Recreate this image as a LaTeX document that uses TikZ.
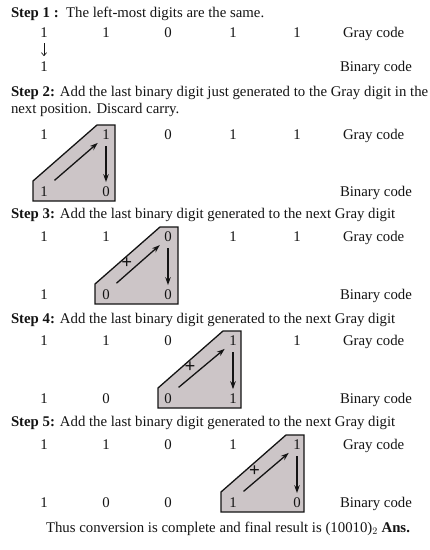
\documentclass[tikz,border=0pt]{standalone}
\usepackage{fontspec}
\setmainfont{Liberation Serif}
\usetikzlibrary{arrows.meta}
\definecolor{boxfill}{RGB}{204,197,199}
\definecolor{ink}{RGB}{20,20,20}
\newcommand\mainfs{\fontsize{14.8}{17}\selectfont}
\begin{document}
\begin{tikzpicture}[x=1pt,y=-1pt,
  every node/.style={inner sep=0pt, outer sep=0pt, font=\mainfs, text=ink},
  txt/.style={anchor=base west},
  dig/.style={anchor=base},
  lbl/.style={anchor=base west},
  gbox/.style={draw=ink, line width=1.3pt, fill=boxfill, line join=miter},
  arr/.style={draw=ink, -{Stealth[length=8pt,width=5.5pt]}, line width=1.3pt},
  smallarr/.style={draw=ink, -{Straight Barb[length=3pt,width=5pt]}, line width=0.7pt},
  plus/.style={font=\fontsize{19}{19}\selectfont\bfseries}
  ]
\useasboundingbox (0,0) rectangle (430,550);
\fill[white] (0,0) rectangle (430,550);

% ---------- Step 1
\node[txt] (s1) at (11,17) {\textbf{Step 1 :}\ \ The left-most digits are the same.};
\node[dig] (g1a) at (44,37) {1};
\node[dig] (g1b) at (106,37) {1};
\node[dig] (g1c) at (168,37) {0};
\node[dig] (g1d) at (233,37) {1};
\node[dig] (g1e) at (297,37) {1};
\node[lbl] (g1l) at (343,37) {Gray code};
\node[dig] (b1a) at (44,71) {1};
\node[lbl] (b1l) at (340,71) {Binary code};
\draw[smallarr, shorten <=6pt, shorten >=5pt] (g1a.south) -- (b1a.north);

% ---------- Step 2
\node[txt] (s2a) at (11,96) {\textbf{Step 2:} Add the last binary digit just generated to the Gray digit in the};
\node[txt] (s2b) at (11,113) {next position. Discard carry.};
\fill[gbox] (97,125) -- (115,125) -- (115,201) -- (33,201) -- (33,181) -- cycle;
\node[dig] (g2a) at (44,139) {1};
\node[dig] (g2b) at (106,139) {1};
\node[dig] (g2c) at (168,139) {0};
\node[dig] (g2d) at (233,139) {1};
\node[dig] (g2e) at (297,139) {1};
\node[lbl] (g2l) at (343,139) {Gray code};
\node[dig] (b2a) at (44,196) {1};
\node[dig] (b2b) at (106,196) {0};
\node[lbl] (b2l) at (340,196) {Binary code};
\draw[arr, shorten <=9pt, shorten >=6pt] (b2a.north east) -- (g2b.south west);
\draw[arr, shorten <=7pt, shorten >=4pt] (g2b.south) -- (b2b.north);

% ---------- Step 3
\node[txt] (s3) at (11,218) {\textbf{Step 3:} Add the last binary digit generated to the next Gray digit};
\fill[gbox] (160,227) -- (178,227) -- (178,304) -- (95,304) -- (95,284) -- cycle;
\node[dig] (g3a) at (44,241) {1};
\node[dig] (g3b) at (106,241) {1};
\node[dig] (g3c) at (168,241) {0};
\node[dig] (g3d) at (233,241) {1};
\node[dig] (g3e) at (297,241) {1};
\node[lbl] (g3l) at (343,241) {Gray code};
\node[dig] (b3a) at (44,299) {1};
\node[dig] (b3b) at (106,299) {0};
\node[dig] (b3c) at (168,299) {0};
\node[lbl] (b3l) at (340,299) {Binary code};
\draw[arr, shorten <=9pt, shorten >=6pt] (b3b.north east) -- node[plus, pos=0.42, above left=0.5pt] (p3) {+} (g3c.south west);
\draw[arr, shorten <=7pt, shorten >=4pt] (g3c.south) -- (b3c.north);

% ---------- Step 4
\node[txt] (s4) at (11,323) {\textbf{Step 4:} Add the last binary digit generated to the next Gray digit};
\fill[gbox] (223,331) -- (241,331) -- (241,408) -- (158,408) -- (158,388) -- cycle;
\node[dig] (g4a) at (44,345) {1};
\node[dig] (g4b) at (106,345) {1};
\node[dig] (g4c) at (168,345) {0};
\node[dig] (g4d) at (233,345) {1};
\node[dig] (g4e) at (297,345) {1};
\node[lbl] (g4l) at (343,345) {Gray code};
\node[dig] (b4a) at (44,403) {1};
\node[dig] (b4b) at (106,403) {0};
\node[dig] (b4c) at (168,403) {0};
\node[dig] (b4d) at (233,403) {1};
\node[lbl] (b4l) at (340,403) {Binary code};
\draw[arr, shorten <=9pt, shorten >=6pt] (b4c.north east) -- node[plus, pos=0.42, above left=0.5pt] (p4) {+} (g4d.south west);
\draw[arr, shorten <=7pt, shorten >=4pt] (g4d.south) -- (b4d.north);

% ---------- Step 5
\node[txt] (s5) at (11,426) {\textbf{Step 5:} Add the last binary digit generated to the next Gray digit};
\fill[gbox] (286,435) -- (304,435) -- (304,512) -- (221,512) -- (221,492) -- cycle;
\node[dig] (g5a) at (44,449) {1};
\node[dig] (g5b) at (106,449) {1};
\node[dig] (g5c) at (168,449) {0};
\node[dig] (g5d) at (233,449) {1};
\node[dig] (g5e) at (297,449) {1};
\node[lbl] (g5l) at (343,449) {Gray code};
\node[dig] (b5a) at (44,507) {1};
\node[dig] (b5b) at (106,507) {0};
\node[dig] (b5c) at (168,507) {0};
\node[dig] (b5d) at (233,507) {1};
\node[dig] (b5e) at (297,507) {0};
\node[lbl] (b5l) at (340,507) {Binary code};
\draw[arr, shorten <=9pt, shorten >=6pt] (b5d.north east) -- node[plus, pos=0.42, above left=0.5pt] (p5) {+} (g5e.south west);
\draw[arr, shorten <=7pt, shorten >=4pt] (g5e.south) -- (b5e.north);

% ---------- Result
\node[anchor=base] (res) at (228,532) {Thus conversion is complete and final result is (10010)$_2$ \textbf{Ans.}};
\end{tikzpicture}
\end{document}
